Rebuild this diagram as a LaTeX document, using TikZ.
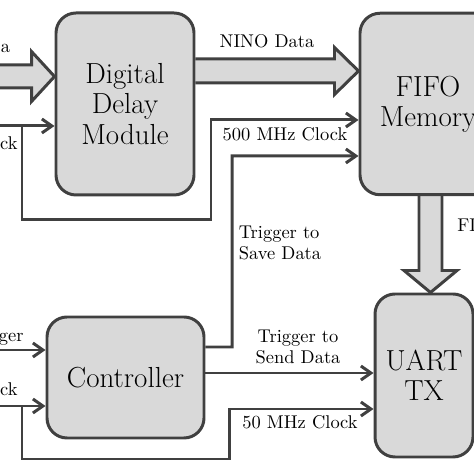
\documentclass[tikz,border=0pt]{standalone}
\usetikzlibrary{arrows.meta, positioning, calc, backgrounds}
\definecolor{edgegray}{RGB}{64,64,64}
\definecolor{boxgray}{RGB}{217,217,217}
\tikzstyle{block} = [rectangle, draw=edgegray, line width=1.7pt, rounded corners=0.4cm, fill=boxgray, text centered, align=center, font=\fontsize{16.5}{17.2}\selectfont]
\tikzstyle{sig}  = [line width=1.7pt, edgegray, -{Straight Barb[length=2mm, width=2.8mm]}]
\tikzstyle{bus}  = [line width=1.7pt, draw=edgegray, fill=boxgray, line join=miter]
\tikzstyle{lbl}  = [font=\fontsize{10.5}{12}\selectfont, inner sep=0pt]

\begin{document}
\begin{tikzpicture}
	\useasboundingbox (0,0) rectangle (9.48,9.48);

	% Blocks
	\node (ddm) [block, minimum width=2.76cm, minimum height=3.64cm] at (2.5,7.4) {Digital\\Delay\\Module};
	\node (fifo) [block, minimum width=2.72cm, minimum height=3.63cm, right=3.26cm of ddm] {FIFO\\Memory};
	\node (ctrl) [block, minimum width=3.14cm, minimum height=2.42cm] at (2.51,1.93) {Controller};
	\node (uart) [block, minimum width=1.96cm, minimum height=3.26cm] at (8.48,1.97) {UART\\TX};

	% Wire corners
	\coordinate (o) at (0,0);
	\coordinate (clkin1) at (0,6.96);
	\coordinate (tap1) at (0.44,6.96);
	\coordinate (bend1) at (0.44,5.08);
	\coordinate (bend2) at (4.22,5.08);
	\coordinate (bend3) at (4.22,7.08);
	\coordinate (save0) at ([yshift=0.61cm]ctrl.east);
	\coordinate (bend4) at (4.64,2.54);
	\coordinate (bend5) at (4.64,6.36);
	\coordinate (trigin) at (0,2.48);
	\coordinate (clkin2) at (0,1.36);
	\coordinate (tap2) at (0.44,1.36);
	\coordinate (bend6) at (0.44,0.30);
	\coordinate (bend7) at (4.58,0.30);
	\coordinate (bend8) at (4.58,1.30);
	\coordinate (send0) at ([yshift=0.09cm]ctrl.east);

	% Data buses
	\coordinate (tipA) at ([yshift=0.55cm]ddm.west);
	\coordinate (tailB) at ([yshift=0.66cm]ddm.east);
	\coordinate (tipB) at (tailB -| fifo.west);
	\coordinate (tailC) at ([xshift=0.05cm]fifo.south);
	\coordinate (tipC) at (tailC |- uart.north);
	\begin{scope}[on background layer]
		\draw[bus] ($(tipA -| o)+(0,0.23)$) -- ($(tipA)+(-0.46,0.23)$) -- ($(tipA)+(-0.46,0.5)$) -- (tipA)
			-- ($(tipA)+(-0.46,-0.5)$) -- ($(tipA)+(-0.46,-0.23)$) -- ($(tipA -| o)+(0,-0.23)$);
		\draw[bus] ($(tailB)+(0,0.24)$) -- ($(tipB)+(-0.48,0.24)$) -- ($(tipB)+(-0.48,0.47)$) -- (tipB)
			-- ($(tipB)+(-0.48,-0.47)$) -- ($(tipB)+(-0.48,-0.24)$) -- ($(tailB)+(0,-0.24)$);
		\draw[bus] ($(tailC)+(-0.23,0)$) -- ($(tipC)+(-0.23,0.44)$) -- ($(tipC)+(-0.53,0.44)$) -- (tipC)
			-- ($(tipC)+(0.53,0.44)$) -- ($(tipC)+(0.23,0.44)$) -- ($(tailC)+(0.23,0)$);
	\end{scope}

	% Clock and trigger lines
	\draw[sig] (clkin1) -- (clkin1 -| ddm.west);
	\draw[sig] (tap1) -- (bend1) -- (bend2) -- (bend3) -- (bend3 -| fifo.west);
	\draw[sig] (save0) -- (bend4) -- (bend5) -- (bend5 -| fifo.west);
	\draw[sig] (trigin) -- (trigin -| ctrl.west);
	\draw[sig] (clkin2) -- (clkin2 -| ctrl.west);
	\draw[sig] (tap2) -- (bend6) -- (bend7) -- (bend8) -- (bend8 -| uart.west);
	\draw[sig] (send0) -- (send0 -| uart.west);

	% Labels
	\node (ninolbl) [lbl, anchor=base] at (5.34,8.52) {NINO Data};
	\node (fastlbl) [lbl, anchor=base] at (5.7,6.66) {500 MHz Clock};
	\node (savelbl) [lbl, align=left] at (5.6,4.62) {Trigger to\\Save Data};
	\node (sendlbl) [lbl, align=center] at (5.96,2.54) {Trigger to\\Send Data};
	\node (slowlbl) [lbl, anchor=base] at (6.0,0.9) {50 MHz Clock};
	\node (filbl) [lbl, anchor=base west] at (9.14,4.84) {FI};
	\node (datalbl) [lbl, anchor=base west] at (0.01,8.42) {a};
	\node (clklbl1) [lbl, anchor=base east] at (0.36,6.48) {ck};
	\node (triglbl) [lbl, anchor=base east] at (0.48,2.64) {ger};
	\node (clklbl2) [lbl, anchor=base east] at (0.36,1.56) {ck};

\end{tikzpicture}
\end{document}
